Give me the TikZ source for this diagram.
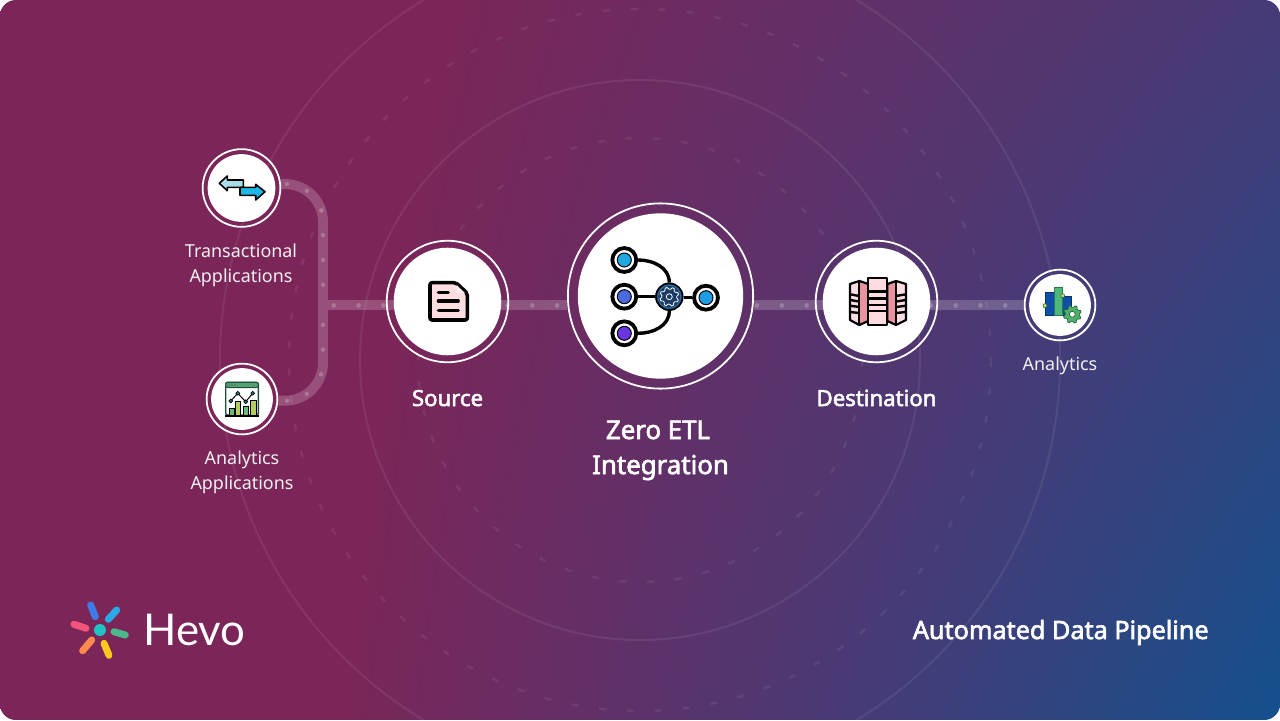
\documentclass[tikz,border=0pt]{standalone}
\usepackage{fontspec}
\setmainfont{Noto Sans}
\newfontfamily\semifont[FakeBold=2.4]{Noto Sans}
\newfontfamily\hevofont{Lato}
\usetikzlibrary{calc}
\newcommand\px[1]{#1*0.5669pt}
\pgfdeclarefunctionalshading{bgshade}{\pgfpointorigin}{\pgfpoint{725.67bp}{408.19bp}}{}{
  408.19 exch sub 0.56693 div exch 0.56693 div
  dup 0.00087 mul 0.15 sub
  3 -1 roll mul add
  430 sub 850 div
  dup 0 lt {pop 0} if
  dup 1 lt {
    dup -0.21 mul 0.486 add exch
    dup 0.085 mul 0.145 add exch
    0.12 mul 0.345 add
  }{
    1 sub 1.23 mul
    dup -0.198 mul 0.276 add exch
    dup 0.084 mul 0.230 add exch
    0.084 mul 0.465 add
  } ifelse
}
\definecolor{iconpink}{HTML}{FDDDE0}
\definecolor{icondark}{HTML}{E8949E}
\definecolor{petalblue}{RGB}{63,123,232}
\definecolor{petalcyan}{RGB}{43,168,232}
\definecolor{petalgreen}{RGB}{77,184,140}
\definecolor{petalyellow}{RGB}{255,201,30}
\definecolor{petalorange}{RGB}{255,138,77}
\definecolor{petalpink}{RGB}{242,85,124}
\definecolor{gearring}{RGB}{42,111,168}
\tikzset{
  x=0.02cm,y=-0.02cm,
  bigcircle/.style={draw=white,draw opacity=0.075,line width=\px{2}},
  dashcircle/.style={draw=white,draw opacity=0.07,line width=\px{2.5},dash pattern=on 3.97pt off 11.9pt},
  pipe/.style={draw=white,draw opacity=0.2,line width=\px{10}},
  pipedots/.style={draw=white,draw opacity=0.22,line width=\px{4.5},line cap=round,dash pattern=on 0.01pt off 14.12pt},
  disk/.style={circle,fill=white,inner sep=0pt},
  ring/.style={circle,draw=white,line width=\px{1.8},inner sep=0pt},
  label/.style={text=white!94!black,anchor=base,inner sep=0pt,font=\fontsize{10.2pt}{12pt}\selectfont},
  head/.style={text=white,anchor=base,inner sep=0pt,font=\semifont\fontsize{12.6pt}{15pt}\selectfont},
  headbig/.style={text=white,anchor=base,inner sep=0pt,font=\semifont\fontsize{14.7pt}{17pt}\selectfont},
  petal/.style={line width=\px{7},line cap=round},
  icon/.style={draw=black,line width=\px{1.6},line join=round},
  hub/.style={circle,draw=black,fill=white,line width=\px{3.8},inner sep=0pt,minimum size=\px{24}},
  hubline/.style={draw=black,line width=\px{3.4}},
  spot/.style={draw=black,line width=\px{1}},
}
\newcommand\gear[6]{% style, cx, cy, outer, inner, teeth
  \path[#1] plot[domain=0:4*#6,samples=4*#6+1,variable=\i]
    ({#2+(mod(round(\i),4)<2?#4:#5)*cos(\i*90/#6+20)},{#3+(mod(round(\i),4)<2?#4:#5)*sin(\i*90/#6+20)}) -- cycle;}
\begin{document}
\begin{tikzpicture}
\useasboundingbox (0,0) rectangle (1280,720);
\fill[white] (0,0) rectangle (1280,720);
\begin{scope}
  \clip[rounded corners=9pt] (0,0) rectangle (1280,720);
  \node[inner sep=0pt,outer sep=0pt,anchor=north west] (bg) at (0,0) {\pgfuseshading{bgshade}};
  \draw[bigcircle] (640,360) circle (420);
  \draw[bigcircle] (640,360) circle (280);
  \draw[dashcircle] (640,360) circle (351);
  \draw[dashcircle] (640,360) circle (222);
\end{scope}

% nodes (rings and disks)
\node[ring,minimum size=\px{78}] (tring) at (241.5,188) {};
\node[ring,minimum size=\px{71}] (aring) at (242,399) {};
\node[ring,minimum size=\px{122}] (sring) at (447.5,301.5) {};
\node[ring,minimum size=\px{186}] (zring) at (660.5,296) {};
\node[ring,minimum size=\px{122}] (dring) at (876.5,301.5) {};
\node[ring,minimum size=\px{71}] (yring) at (1060,305) {};

% pipeline
\coordinate (tcor) at (323,184);
\coordinate (bcor) at (323,400.7);
\coordinate (jct) at (323,305.3);
\draw[pipe,rounded corners=\px{38}] (tring.east |- tcor) -- (tcor) -- (bcor) -- (aring.east |- bcor);
\draw[pipe] (328,305.3) -- (zring.west |- jct);
\draw[pipe] (zring.east |- jct) -- (yring.west |- jct);
\draw[pipedots,rounded corners=\px{38}] (287,184) -- (tcor) -- (323,300);
\draw[pipedots,rounded corners=\px{38}] (287,400.7) -- (bcor) -- (323,310);
\draw[pipedots] (333.7,305.3) -- (570,305.3);
\draw[pipedots] (757,305.3) -- (1030,305.3);

\node[disk,minimum size=\px{68}] (tdisk) at (tring.center) {};
\node[disk,minimum size=\px{62}] (adisk) at (aring.center) {};
\node[disk,minimum size=\px{108}] (sdisk) at (sring.center) {};
\node[disk,minimum size=\px{166}] (zdisk) at (zring.center) {};
\node[disk,minimum size=\px{108}] (ddisk) at (dring.center) {};
\node[disk,minimum size=\px{62}] (ydisk) at (yring.center) {};

% transactional icon
\path[icon,fill={rgb,255:red,168;green,221;blue,232}] (219.3,183.3) -- (227.3,176) -- (227.3,180) -- (243.3,180) -- (243.3,187.3) -- (227.3,187.3) -- (227.3,190.7) -- cycle;
\path[icon,fill={rgb,255:red,31;green,182;blue,232}] (265,191.7) -- (255.7,184.3) -- (255.7,187.3) -- (240,187.3) -- (240,195.3) -- (255.7,195.3) -- (255.7,200) -- cycle;

% analytics-application icon
\path[draw={rgb,255:red,30;green,80;blue,60},line width=\px{1.4},fill=white,rounded corners=\px{2}] (225.7,382.3) rectangle (258.3,415);
\path[draw={rgb,255:red,30;green,80;blue,60},line width=\px{1},fill={rgb,255:red,85;green,160;blue,115},rounded corners=\px{2}] (225.7,382.3) rectangle (258.3,387.5);
\fill[black!70] (229,385) circle (0.7) (232,385) circle (0.7) (235,385) circle (0.7);
\path[draw=black,line width=\px{0.8},fill={rgb,255:red,102;green,187;blue,122}] (229.3,408.7) rectangle (234,416);
\path[draw=black,line width=\px{0.8},fill={rgb,255:red,181;green,204;blue,95}] (235.7,401) rectangle (240.3,416);
\path[draw=black,line width=\px{0.8},fill={rgb,255:red,102;green,187;blue,122}] (243.3,406.7) rectangle (248,416);
\path[draw=black,line width=\px{0.8},fill={rgb,255:red,181;green,204;blue,95}] (250.3,400) rectangle (256,416);
\draw[black,line width=\px{1.4}] (225,416) -- (259.3,416);
\draw[black,line width=\px{1}] (230.7,401) -- (237.7,393.3) -- (245.7,401.7) -- (252.7,393.3);
\foreach \p in {(230.7,401),(237.7,393.3),(245.7,401.7),(252.7,393.3)}
  \path[draw=black,line width=\px{0.7},fill={rgb,255:red,58;green,124;blue,165}] \p circle (1.9);

% document icon
\path[draw=black,line width=\px{3.6},fill=iconpink,line join=round,rounded corners=\px{2}] (430,282.7) -- (456,282.7) -- (467.3,293.3) -- (467.3,320) -- (430,320) -- cycle;
\path[fill={rgb,255:red,255;green,240;blue,240}] (456.5,285) -- (456.5,293) -- (465,293) -- cycle;
\draw[black,line width=\px{3.2},line cap=round] (438.3,292.3) -- (448.3,292.3) (438.3,301) -- (458.3,301) (438.3,310.3) -- (458.3,310.3);

% zero-ETL icon
\node[hub] (h1) at (624.3,260) {};
\node[hub] (h2) at (624.3,296.7) {};
\node[hub] (h3) at (624.3,333.3) {};
\node[hub] (h4) at (706,297.7) {};
\node[circle,draw=black,fill={rgb,255:red,27;green,60;blue,100},line width=\px{1.6},inner sep=0pt,minimum size=\px{27}] (gearhub) at (669.3,296.7) {};
\draw[hubline] (h1.east) to[out=0,in=90] (gearhub.north);
\draw[hubline] (h3.east) to[out=0,in=-90] (gearhub.south);
\draw[hubline] (h2.east) -- (gearhub.west);
\draw[hubline] (gearhub.east |- h4) -- (h4.west);
\path[spot,fill={rgb,255:red,30;green,167;blue,225}] (h1.center) circle (7);
\path[spot,fill={rgb,255:red,74;green,107;blue,224}] (h2.center) circle (7);
\path[spot,fill={rgb,255:red,106;green,53;blue,224}] (h3.center) circle (7);
\path[spot,fill={rgb,255:red,30;green,157;blue,229}] (h4.center) circle (7);
\draw[gearring,line width=\px{1}] (gearhub.center) circle (11.5);
\gear{draw=white,line width=\px{0.8}}{669.3}{296.7}{9.5}{7.5}{8}
\draw[white,line width=\px{0.8}] (669.3,296.7) circle (3);

% destination icon
\path[fill=iconpink] (850,284) -- (859.3,281) -- (859.3,325) -- (850,320) -- cycle;
\path[fill=icondark] (859.3,281) -- (868.3,284) -- (868.3,321) -- (859.3,325) -- cycle;
\path[fill=icondark] (887.3,284) -- (896,281) -- (896,325) -- (887.3,321) -- cycle;
\path[fill=iconpink] (896,281) -- (906,284) -- (906,320) -- (896,325) -- cycle;
\draw[black,line width=\px{2.4}] (850,294.3) -- (859.3,296) (850,300) -- (859.3,301.5) (850,305.7) -- (859.3,307) (850,312) -- (859.3,313);
\draw[black,line width=\px{2.4}] (906,294.3) -- (896,296) (906,300) -- (896,301.5) (906,305.7) -- (896,307) (906,312) -- (896,313);
\path[icon,line width=\px{2.2}] (859.3,281) -- (859.3,325) (896,281) -- (896,325);
\path[icon,line width=\px{2.2}] (850,284) -- (859.3,281) -- (868.3,284) -- (868.3,321) -- (859.3,325) -- (850,320) -- cycle;
\path[icon,line width=\px{2.2}] (887.3,284) -- (896,281) -- (906,284) -- (906,320) -- (896,325) -- (887.3,321) -- cycle;
\path[icon,line width=\px{2.2},fill=iconpink] (868.3,277.7) rectangle (887.3,325);
\draw[black,line width=\px{2.6}] (869,291.7) -- (886.6,291.7) (869,298.3) -- (886.6,298.3) (869,305) -- (886.6,305) (869,311) -- (886.6,311);

% analytics icon
\path[fill={rgb,255:red,15;green,79;blue,168},draw={rgb,255:red,10;green,50;blue,110},line width=\px{0.8}] (1045.3,292.3) rectangle (1054,315.3);
\path[fill={rgb,255:red,15;green,79;blue,168},draw={rgb,255:red,10;green,50;blue,110},line width=\px{0.8}] (1062.7,296) rectangle (1071,315.3);
\path[fill={rgb,255:red,76;green,185;blue,122},draw={rgb,255:red,40;green,120;blue,80},line width=\px{0.8}] (1054,287.3) rectangle (1062.7,315.3);
\path[fill={rgb,255:red,201;green,217;blue,106},draw={rgb,255:red,40;green,100;blue,60},line width=\px{0.6}] (1045,305.7) circle (2) (1062.7,295.7) circle (2);
\gear{fill={rgb,255:red,79;green,176;blue,106},draw={rgb,255:red,30;green,100;blue,60},line width=\px{0.7}}{1072.3}{314.3}{9}{7}{8}
\path[fill=white,draw={rgb,255:red,30;green,100;blue,60},line width=\px{0.7}] (1072.3,314.3) circle (3);

% logo
\node[circle,fill={rgb,255:red,28;green,196;blue,196},inner sep=0pt,minimum size=\px{12}] (hevodot) at (100,630) {};
\draw[petal,petalblue] (90.7,605) -- (95.3,616.7);
\draw[petal,petalcyan] (116.7,610) -- (108.3,619.3);
\draw[petal,petalgreen] (114,631.7) -- (125.3,635);
\draw[petal,petalyellow] (104,643.3) -- (109,655.3);
\draw[petal,petalorange] (91.7,640) -- (82.7,650.7);
\draw[petal,petalpink] (74,624.3) -- (86,628.3);
\node[anchor=base west,inner sep=0pt,text=white,font=\hevofont\fontsize{24.9pt}{28pt}\selectfont] (hevo) at (143,645) {Hevo};

% labels
\node[label] (t1) at (241,257) {Transactional};
\node[label] (t2) at (241,282) {Applications};
\node[label] (a1) at (242,464) {Analytics};
\node[label] (a2) at (242,489) {Applications};
\node[label] (y1) at (1060,370) {Analytics};
\node[head] (s1) at (447.5,406) {Source};
\node[head] (d1) at (876.5,406) {Destination};
\node[headbig] (z1) at (658,439) {Zero ETL};
\node[headbig] (z2) at (660.5,474) {Integration};
\node[anchor=base east,inner sep=0pt,text=white,font=\semifont\fontsize{14.35pt}{16pt}\selectfont] (pipe) at (1209,639) {Automated Data Pipeline};
\end{tikzpicture}
\end{document}
